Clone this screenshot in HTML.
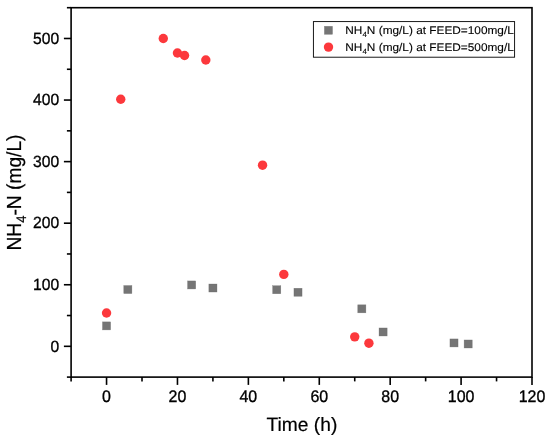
<!DOCTYPE html>
<html><head><meta charset="utf-8"><title>NH4-N vs Time</title>
<style>html,body{margin:0;padding:0;background:#fff}svg{display:block}text{text-rendering:geometricPrecision;font-family:"Liberation Sans",Arial,sans-serif;fill:#000}</style></head><body>
<svg width="550" height="440" viewBox="0 0 550 440">
<rect width="550" height="440" fill="#fff"/>
<g stroke="#000" stroke-width="1.6" fill="none" stroke-linecap="butt">
<rect x="71.1" y="7.7" width="460.90" height="369.40"/>
<line x1="71.10" y1="377.1" x2="71.10" y2="381.40"/>
<line x1="106.55" y1="377.1" x2="106.55" y2="384.90"/>
<line x1="142.01" y1="377.1" x2="142.01" y2="381.40"/>
<line x1="177.46" y1="377.1" x2="177.46" y2="384.90"/>
<line x1="212.92" y1="377.1" x2="212.92" y2="381.40"/>
<line x1="248.37" y1="377.1" x2="248.37" y2="384.90"/>
<line x1="283.82" y1="377.1" x2="283.82" y2="381.40"/>
<line x1="319.28" y1="377.1" x2="319.28" y2="384.90"/>
<line x1="354.73" y1="377.1" x2="354.73" y2="381.40"/>
<line x1="390.18" y1="377.1" x2="390.18" y2="384.90"/>
<line x1="425.64" y1="377.1" x2="425.64" y2="381.40"/>
<line x1="461.09" y1="377.1" x2="461.09" y2="384.90"/>
<line x1="496.55" y1="377.1" x2="496.55" y2="381.40"/>
<line x1="532.00" y1="377.1" x2="532.00" y2="384.90"/>
<line x1="71.1" y1="377.10" x2="66.90" y2="377.10"/>
<line x1="71.1" y1="346.32" x2="63.90" y2="346.32"/>
<line x1="71.1" y1="315.53" x2="66.90" y2="315.53"/>
<line x1="71.1" y1="284.75" x2="63.90" y2="284.75"/>
<line x1="71.1" y1="253.97" x2="66.90" y2="253.97"/>
<line x1="71.1" y1="223.18" x2="63.90" y2="223.18"/>
<line x1="71.1" y1="192.40" x2="66.90" y2="192.40"/>
<line x1="71.1" y1="161.62" x2="63.90" y2="161.62"/>
<line x1="71.1" y1="130.83" x2="66.90" y2="130.83"/>
<line x1="71.1" y1="100.05" x2="63.90" y2="100.05"/>
<line x1="71.1" y1="69.27" x2="66.90" y2="69.27"/>
<line x1="71.1" y1="38.48" x2="63.90" y2="38.48"/>
<line x1="71.1" y1="7.70" x2="66.90" y2="7.70"/>
</g>
<g font-size="15.5px" stroke="#000" stroke-width="0.3">
<text transform="translate(106.55,402.1) scale(1.03,1.08)" text-anchor="middle">0</text>
<text transform="translate(177.46,402.1) scale(1.03,1.08)" text-anchor="middle">20</text>
<text transform="translate(248.37,402.1) scale(1.03,1.08)" text-anchor="middle">40</text>
<text transform="translate(319.28,402.1) scale(1.03,1.08)" text-anchor="middle">60</text>
<text transform="translate(390.18,402.1) scale(1.03,1.08)" text-anchor="middle">80</text>
<text transform="translate(461.09,402.1) scale(1.03,1.08)" text-anchor="middle">100</text>
<text transform="translate(532.00,402.1) scale(1.03,1.08)" text-anchor="middle">120</text>
<text transform="translate(59.25,351.52) scale(1.01,1.05)" text-anchor="end">0</text>
<text transform="translate(59.25,289.95) scale(1.01,1.05)" text-anchor="end">100</text>
<text transform="translate(59.25,228.38) scale(1.01,1.05)" text-anchor="end">200</text>
<text transform="translate(59.25,166.82) scale(1.01,1.05)" text-anchor="end">300</text>
<text transform="translate(59.25,105.25) scale(1.01,1.05)" text-anchor="end">400</text>
<text transform="translate(59.25,43.68) scale(1.01,1.05)" text-anchor="end">500</text>
</g>
<text x="301.95" y="431.2" font-size="19.2px" stroke="#000" stroke-width="0.2" text-anchor="middle">Time (h)</text>
<text transform="translate(21.4,192.50) rotate(-90) scale(1,1.06)" font-size="19.2px" stroke="#000" stroke-width="0.2" text-anchor="middle">NH<tspan font-size="13px" dy="4.5">4</tspan><tspan dy="-4.5">-N (mg/L)</tspan></text>
<rect x="102.50" y="321.88" width="8.1" height="8" fill="#757575" stroke="#666" stroke-width="0.5" stroke-opacity="0.6"/>
<rect x="123.78" y="285.55" width="8.1" height="8" fill="#757575" stroke="#666" stroke-width="0.5" stroke-opacity="0.6"/>
<rect x="187.59" y="280.93" width="8.1" height="8" fill="#757575" stroke="#666" stroke-width="0.5" stroke-opacity="0.6"/>
<rect x="208.87" y="284.01" width="8.1" height="8" fill="#757575" stroke="#666" stroke-width="0.5" stroke-opacity="0.6"/>
<rect x="272.68" y="285.74" width="8.1" height="8" fill="#757575" stroke="#666" stroke-width="0.5" stroke-opacity="0.6"/>
<rect x="293.95" y="288.26" width="8.1" height="8" fill="#757575" stroke="#666" stroke-width="0.5" stroke-opacity="0.6"/>
<rect x="357.77" y="304.82" width="8.1" height="8" fill="#757575" stroke="#666" stroke-width="0.5" stroke-opacity="0.6"/>
<rect x="379.04" y="327.97" width="8.1" height="8" fill="#757575" stroke="#666" stroke-width="0.5" stroke-opacity="0.6"/>
<rect x="449.95" y="338.93" width="8.1" height="8" fill="#757575" stroke="#666" stroke-width="0.5" stroke-opacity="0.6"/>
<rect x="464.13" y="339.98" width="8.1" height="8" fill="#757575" stroke="#666" stroke-width="0.5" stroke-opacity="0.6"/>
<circle cx="106.55" cy="312.95" r="4.7" fill="#fc383c"/>
<circle cx="120.74" cy="99.25" r="4.7" fill="#fc383c"/>
<circle cx="163.28" cy="38.48" r="4.7" fill="#fc383c"/>
<circle cx="177.46" cy="52.95" r="4.7" fill="#fc383c"/>
<circle cx="184.55" cy="55.54" r="4.7" fill="#fc383c"/>
<circle cx="205.82" cy="60.03" r="4.7" fill="#fc383c"/>
<circle cx="262.55" cy="165.19" r="4.7" fill="#fc383c"/>
<circle cx="283.82" cy="274.41" r="4.7" fill="#fc383c"/>
<circle cx="354.73" cy="336.84" r="4.7" fill="#fc383c"/>
<circle cx="368.91" cy="343.18" r="4.7" fill="#fc383c"/>
<rect x="313.4" y="21.6" width="201.2" height="35.6" fill="#fff" stroke="#000" stroke-width="0.9"/>
<rect x="324.4" y="26.3" width="8.1" height="8" fill="#757575" stroke="#666" stroke-width="0.5" stroke-opacity="0.6"/>
<circle cx="328.5" cy="47.1" r="4.7" fill="#fc383c"/>
<text transform="translate(345.3,34.1) scale(1.057,1)" font-size="11.2px" stroke="#000" stroke-width="0.12">NH<tspan font-size="7.6px" dy="2.7">4</tspan><tspan dy="-2.7">N (mg/L) at FEED=100mg/L</tspan></text>
<text transform="translate(345.3,51.2) scale(1.057,1)" font-size="11.2px" stroke="#000" stroke-width="0.12">NH<tspan font-size="7.6px" dy="2.7">4</tspan><tspan dy="-2.7">N (mg/L) at FEED=500mg/L</tspan></text>
</svg></body></html>
